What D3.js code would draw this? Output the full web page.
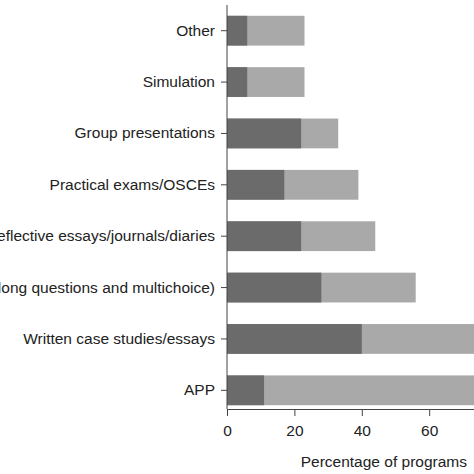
<!DOCTYPE html>
<html><head><meta charset="utf-8">
<script src="https://cdn.jsdelivr.net/npm/d3@7"></script>
<style>body{margin:0;background:#fff}svg{font-family:"Liberation Sans",Arial,sans-serif}</style>
</head><body>
<script>
const categories = ["Other","Simulation","Group presentations","Practical exams/OSCEs","Reflective essays/journals/diaries","Exams (long questions and multichoice)","Written case studies/essays","APP"];
const darkValues = [6, 6, 22, 17, 22, 28, 40, 11];
const totalValues = [23, 23, 33, 39, 44, 56, 80, 85];
const xTicks = [0, 20, 40, 60];

const w = 474, h = 474;
const svg = d3.select("body").append("svg").attr("width", w).attr("height", h);
const x = d3.scaleLinear().domain([0, 73.3]).range([227, 474]);
const y = d3.scaleBand().domain(categories).range([5, 416]).paddingInner(0.42).paddingOuter(0.21);

svg.append("clipPath").attr("id","c").append("rect").attr("x",227).attr("y",0).attr("width",247).attr("height",h);
const g = svg.append("g").attr("clip-path","url(#c)");
g.selectAll(".light").data(categories).enter().append("rect")
  .attr("x", x(0)).attr("y", d => y(d)).attr("height", y.bandwidth())
  .attr("width", (d,i) => x(totalValues[i]) - x(0)).attr("fill", "#a9a9a9");
g.selectAll(".dark").data(categories).enter().append("rect")
  .attr("x", x(0)).attr("y", d => y(d)).attr("height", y.bandwidth())
  .attr("width", (d,i) => x(darkValues[i]) - x(0)).attr("fill", "#6b6b6b");

const yAxis = svg.append("g").attr("transform","translate(227,0)")
  .call(d3.axisLeft(y).tickSize(6).tickSizeOuter(0).tickPadding(6));
yAxis.select(".domain").attr("d","M0,5V409");
const xAxis = svg.append("g").attr("transform","translate(0,409)")
  .call(d3.axisBottom(x).tickValues(xTicks).tickSize(7).tickSizeOuter(0).tickPadding(9));
svg.selectAll(".tick text").attr("font-size", 15.5).attr("fill","#222");
svg.selectAll(".domain, .tick line").attr("stroke","#444");
svg.append("text").attr("x", 467).attr("y", 467).attr("text-anchor","end")
  .attr("font-size", 15.5).attr("fill","#222").text("Percentage of programs");
</script>
</body></html>
